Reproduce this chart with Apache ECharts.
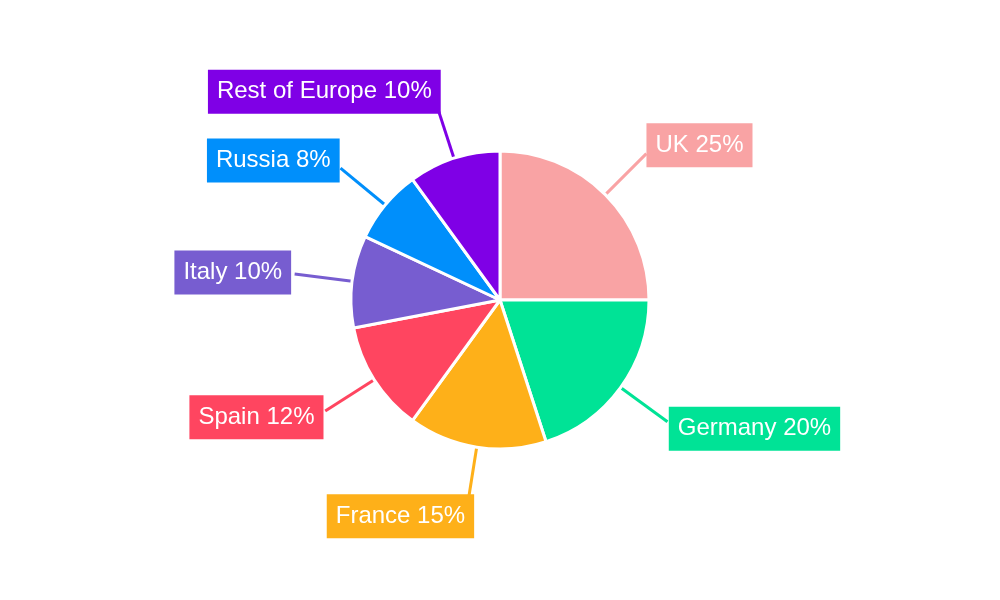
<!DOCTYPE html>
<html>
<head>
<meta charset="utf-8">
<script src="https://cdn.jsdelivr.net/npm/echarts@6/dist/echarts.min.js"></script>
<style>html,body{margin:0;padding:0;background:#fff;}#c{width:1000px;height:600px;}</style>
</head>
<body>
<div id="c"></div>
<script>
const categories = ['UK', 'Germany', 'France', 'Spain', 'Italy', 'Russia', 'Rest of Europe'];
const shares = [25, 20, 15, 12, 10, 8, 10];
const colors = ['#F9A3A4', '#00E396', '#FEB019', '#FF4560', '#775DD0', '#008FFB', '#7F00E6'];

const chart = echarts.init(document.getElementById('c'));
chart.setOption({
  animation: false,
  series: [{
    type: 'pie',
    center: [500, 300],
    radius: 149,
    startAngle: 90,
    clockwise: true,
    avoidLabelOverlap: false,
    data: categories.map((n, i) => ({
      name: n, value: shares[i],
      itemStyle: { color: colors[i] },
      label: { backgroundColor: colors[i] },
      labelLine: { lineStyle: { color: colors[i] } }
    })),
    itemStyle: { borderColor: '#fff', borderWidth: 3 },
    label: {
      show: true,
      formatter: '{b} {c}%',
      color: '#fff',
      fontFamily: 'Liberation Sans, Arial, sans-serif',
      fontSize: 24,
      lineHeight: 24,
      padding: [10, 9],
      distanceToLabelLine: 0
    },
    labelLine: { show: true, length: 58, length2: 0, smooth: false, lineStyle: { width: 3 } },
    labelLayout: function (p) {
      const pts = p.labelLinePoints;
      if (!pts) return {};
      const vx = pts[1][0] - pts[0][0], vy = pts[1][1] - pts[0][1];
      const L = Math.hypot(vx, vy) || 1;
      const ux = vx / L, uy = vy / L;
      const sx = ux >= 0 ? 1 : -1;
      return {
        dx: sx * (Math.abs(ux) - 0.7) * 12,
        dy: uy * 12,
        labelLinePoints: pts
      };
    }
  }]
});
</script>
</body>
</html>
